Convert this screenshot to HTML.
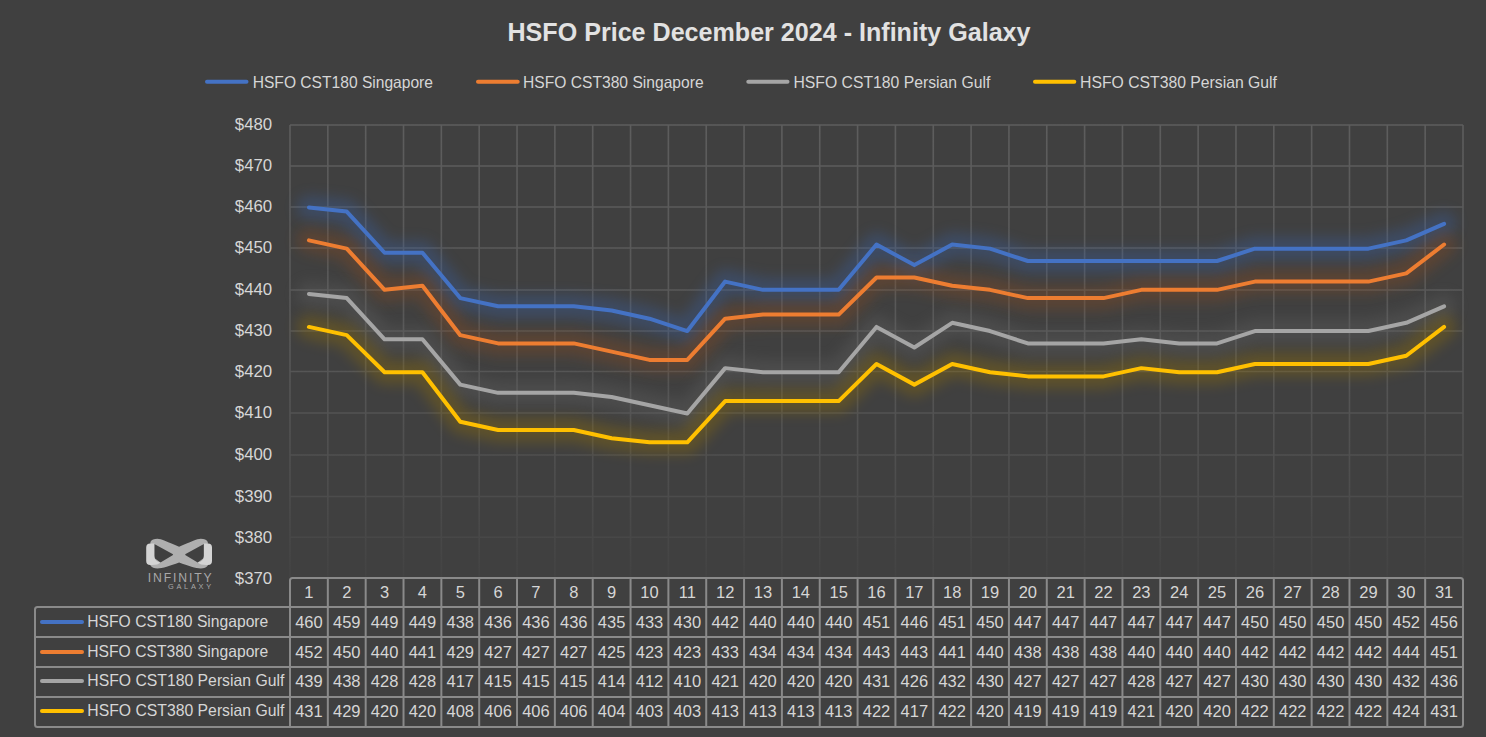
<!DOCTYPE html><html><head><meta charset="utf-8"><style>
html,body{margin:0;padding:0;background:#404040;}
svg{display:block;font-family:"Liberation Sans", sans-serif;}
</style></head><body>
<svg width="1486" height="737" viewBox="0 0 1486 737">
<defs>
<linearGradient id="gg" gradientUnits="userSpaceOnUse" x1="0" y1="125" x2="0" y2="578.3"><stop offset="0" stop-color="#5d5d5d"/><stop offset="0.5" stop-color="#575757"/><stop offset="0.8" stop-color="#4d4d4d"/><stop offset="1" stop-color="#434343"/></linearGradient>
<filter id="glow" x="-10%" y="-30%" width="120%" height="160%"><feGaussianBlur stdDeviation="6.5"/></filter>
</defs>
<rect width="1486" height="737" fill="#404040"/>
<text x="507.5" y="41" font-size="26" font-weight="bold" fill="#e2e2e2" textLength="523" lengthAdjust="spacingAndGlyphs">HSFO Price December 2024 - Infinity Galaxy</text>
<line x1="207" y1="81.8" x2="246.5" y2="81.8" stroke="#4472C4" stroke-width="4" stroke-linecap="round"/>
<text x="252.7" y="87.7" font-size="16.5" fill="#d6d6d6" textLength="180.3" lengthAdjust="spacingAndGlyphs">HSFO CST180 Singapore</text>
<line x1="478" y1="81.8" x2="517.7" y2="81.8" stroke="#ED7D31" stroke-width="4" stroke-linecap="round"/>
<text x="523" y="87.7" font-size="16.5" fill="#d6d6d6" textLength="180.6" lengthAdjust="spacingAndGlyphs">HSFO CST380 Singapore</text>
<line x1="748.3" y1="81.8" x2="787.5" y2="81.8" stroke="#A5A5A5" stroke-width="4" stroke-linecap="round"/>
<text x="793.5" y="87.7" font-size="16.5" fill="#d6d6d6" textLength="196.8" lengthAdjust="spacingAndGlyphs">HSFO CST180 Persian Gulf</text>
<line x1="1035" y1="81.8" x2="1074.3" y2="81.8" stroke="#FFC000" stroke-width="4" stroke-linecap="round"/>
<text x="1080" y="87.7" font-size="16.5" fill="#d6d6d6" textLength="197" lengthAdjust="spacingAndGlyphs">HSFO CST380 Persian Gulf</text>
<g stroke="url(#gg)" stroke-width="1.6"><line x1="290" y1="125.00" x2="1463" y2="125.00"/><line x1="290" y1="166.00" x2="1463" y2="166.00"/><line x1="290" y1="207.00" x2="1463" y2="207.00"/><line x1="290" y1="248.00" x2="1463" y2="248.00"/><line x1="290" y1="290.00" x2="1463" y2="290.00"/><line x1="290" y1="331.00" x2="1463" y2="331.00"/><line x1="290" y1="371.50" x2="1463" y2="371.50"/><line x1="290" y1="413.00" x2="1463" y2="413.00"/><line x1="290" y1="455.00" x2="1463" y2="455.00"/><line x1="290" y1="496.50" x2="1463" y2="496.50"/><line x1="290" y1="537.30" x2="1463" y2="537.30"/><line x1="290" y1="578.30" x2="1463" y2="578.30"/><line x1="290.00" y1="125" x2="290.00" y2="578.3"/><line x1="327.84" y1="125" x2="327.84" y2="578.3"/><line x1="365.68" y1="125" x2="365.68" y2="578.3"/><line x1="403.52" y1="125" x2="403.52" y2="578.3"/><line x1="441.35" y1="125" x2="441.35" y2="578.3"/><line x1="479.19" y1="125" x2="479.19" y2="578.3"/><line x1="517.03" y1="125" x2="517.03" y2="578.3"/><line x1="554.87" y1="125" x2="554.87" y2="578.3"/><line x1="592.71" y1="125" x2="592.71" y2="578.3"/><line x1="630.55" y1="125" x2="630.55" y2="578.3"/><line x1="668.39" y1="125" x2="668.39" y2="578.3"/><line x1="706.23" y1="125" x2="706.23" y2="578.3"/><line x1="744.06" y1="125" x2="744.06" y2="578.3"/><line x1="781.90" y1="125" x2="781.90" y2="578.3"/><line x1="819.74" y1="125" x2="819.74" y2="578.3"/><line x1="857.58" y1="125" x2="857.58" y2="578.3"/><line x1="895.42" y1="125" x2="895.42" y2="578.3"/><line x1="933.26" y1="125" x2="933.26" y2="578.3"/><line x1="971.10" y1="125" x2="971.10" y2="578.3"/><line x1="1008.94" y1="125" x2="1008.94" y2="578.3"/><line x1="1046.77" y1="125" x2="1046.77" y2="578.3"/><line x1="1084.61" y1="125" x2="1084.61" y2="578.3"/><line x1="1122.45" y1="125" x2="1122.45" y2="578.3"/><line x1="1160.29" y1="125" x2="1160.29" y2="578.3"/><line x1="1198.13" y1="125" x2="1198.13" y2="578.3"/><line x1="1235.97" y1="125" x2="1235.97" y2="578.3"/><line x1="1273.81" y1="125" x2="1273.81" y2="578.3"/><line x1="1311.65" y1="125" x2="1311.65" y2="578.3"/><line x1="1349.48" y1="125" x2="1349.48" y2="578.3"/><line x1="1387.32" y1="125" x2="1387.32" y2="578.3"/><line x1="1425.16" y1="125" x2="1425.16" y2="578.3"/><line x1="1463.00" y1="125" x2="1463.00" y2="578.3"/></g>
<text x="234.8" y="130.40" font-size="16.5" fill="#d6d6d6" textLength="37.4" lengthAdjust="spacingAndGlyphs">$480</text>
<text x="234.8" y="171.40" font-size="16.5" fill="#d6d6d6" textLength="37.4" lengthAdjust="spacingAndGlyphs">$470</text>
<text x="234.8" y="212.40" font-size="16.5" fill="#d6d6d6" textLength="37.4" lengthAdjust="spacingAndGlyphs">$460</text>
<text x="234.8" y="253.40" font-size="16.5" fill="#d6d6d6" textLength="37.4" lengthAdjust="spacingAndGlyphs">$450</text>
<text x="234.8" y="295.40" font-size="16.5" fill="#d6d6d6" textLength="37.4" lengthAdjust="spacingAndGlyphs">$440</text>
<text x="234.8" y="336.40" font-size="16.5" fill="#d6d6d6" textLength="37.4" lengthAdjust="spacingAndGlyphs">$430</text>
<text x="234.8" y="376.90" font-size="16.5" fill="#d6d6d6" textLength="37.4" lengthAdjust="spacingAndGlyphs">$420</text>
<text x="234.8" y="418.40" font-size="16.5" fill="#d6d6d6" textLength="37.4" lengthAdjust="spacingAndGlyphs">$410</text>
<text x="234.8" y="460.40" font-size="16.5" fill="#d6d6d6" textLength="37.4" lengthAdjust="spacingAndGlyphs">$400</text>
<text x="234.8" y="501.90" font-size="16.5" fill="#d6d6d6" textLength="37.4" lengthAdjust="spacingAndGlyphs">$390</text>
<text x="234.8" y="542.70" font-size="16.5" fill="#d6d6d6" textLength="37.4" lengthAdjust="spacingAndGlyphs">$380</text>
<text x="234.8" y="583.70" font-size="16.5" fill="#d6d6d6" textLength="37.4" lengthAdjust="spacingAndGlyphs">$370</text>
<polyline points="308.92,207.42 346.76,211.54 384.60,252.75 422.44,252.75 460.27,298.08 498.11,306.32 535.95,306.32 573.79,306.32 611.63,310.44 649.47,318.68 687.31,331.05 725.15,281.59 762.98,289.84 800.82,289.84 838.66,289.84 876.50,244.51 914.34,265.11 952.18,244.51 990.02,248.63 1027.85,260.99 1065.69,260.99 1103.53,260.99 1141.37,260.99 1179.21,260.99 1217.05,260.99 1254.89,248.63 1292.73,248.63 1330.56,248.63 1368.40,248.63 1406.24,240.39 1444.08,223.90" fill="none" stroke="#3960a6" stroke-width="24" stroke-linejoin="round" stroke-linecap="round" opacity="0.34" filter="url(#glow)"/>
<polyline points="308.92,240.39 346.76,248.63 384.60,289.84 422.44,285.72 460.27,335.17 498.11,343.41 535.95,343.41 573.79,343.41 611.63,351.65 649.47,359.89 687.31,359.89 725.15,318.68 762.98,314.56 800.82,314.56 838.66,314.56 876.50,277.47 914.34,277.47 952.18,285.72 990.02,289.84 1027.85,298.08 1065.69,298.08 1103.53,298.08 1141.37,289.84 1179.21,289.84 1217.05,289.84 1254.89,281.59 1292.73,281.59 1330.56,281.59 1368.40,281.59 1406.24,273.35 1444.08,244.51" fill="none" stroke="#8e4b1d" stroke-width="24" stroke-linejoin="round" stroke-linecap="round" opacity="0.34" filter="url(#glow)"/>
<polyline points="308.92,293.96 346.76,298.08 384.60,339.29 422.44,339.29 460.27,384.62 498.11,392.86 535.95,392.86 573.79,392.86 611.63,396.98 649.47,405.22 687.31,413.46 725.15,368.13 762.98,372.25 800.82,372.25 838.66,372.25 876.50,326.92 914.34,347.53 952.18,322.80 990.02,331.05 1027.85,343.41 1065.69,343.41 1103.53,343.41 1141.37,339.29 1179.21,343.41 1217.05,343.41 1254.89,331.05 1292.73,331.05 1330.56,331.05 1368.40,331.05 1406.24,322.80 1444.08,306.32" fill="none" stroke="#636363" stroke-width="24" stroke-linejoin="round" stroke-linecap="round" opacity="0.34" filter="url(#glow)"/>
<polyline points="308.92,326.92 346.76,335.17 384.60,372.25 422.44,372.25 460.27,421.71 498.11,429.95 535.95,429.95 573.79,429.95 611.63,438.19 649.47,442.31 687.31,442.31 725.15,401.10 762.98,401.10 800.82,401.10 838.66,401.10 876.50,364.01 914.34,384.62 952.18,364.01 990.02,372.25 1027.85,376.38 1065.69,376.38 1103.53,376.38 1141.37,368.13 1179.21,372.25 1217.05,372.25 1254.89,364.01 1292.73,364.01 1330.56,364.01 1368.40,364.01 1406.24,355.77 1444.08,326.92" fill="none" stroke="#997300" stroke-width="24" stroke-linejoin="round" stroke-linecap="round" opacity="0.34" filter="url(#glow)"/>
<polyline points="308.92,207.42 346.76,211.54 384.60,252.75 422.44,252.75 460.27,298.08 498.11,306.32 535.95,306.32 573.79,306.32 611.63,310.44 649.47,318.68 687.31,331.05 725.15,281.59 762.98,289.84 800.82,289.84 838.66,289.84 876.50,244.51 914.34,265.11 952.18,244.51 990.02,248.63 1027.85,260.99 1065.69,260.99 1103.53,260.99 1141.37,260.99 1179.21,260.99 1217.05,260.99 1254.89,248.63 1292.73,248.63 1330.56,248.63 1368.40,248.63 1406.24,240.39 1444.08,223.90" fill="none" stroke="#4472C4" stroke-width="4" stroke-linejoin="round" stroke-linecap="round"/>
<polyline points="308.92,240.39 346.76,248.63 384.60,289.84 422.44,285.72 460.27,335.17 498.11,343.41 535.95,343.41 573.79,343.41 611.63,351.65 649.47,359.89 687.31,359.89 725.15,318.68 762.98,314.56 800.82,314.56 838.66,314.56 876.50,277.47 914.34,277.47 952.18,285.72 990.02,289.84 1027.85,298.08 1065.69,298.08 1103.53,298.08 1141.37,289.84 1179.21,289.84 1217.05,289.84 1254.89,281.59 1292.73,281.59 1330.56,281.59 1368.40,281.59 1406.24,273.35 1444.08,244.51" fill="none" stroke="#ED7D31" stroke-width="4" stroke-linejoin="round" stroke-linecap="round"/>
<polyline points="308.92,293.96 346.76,298.08 384.60,339.29 422.44,339.29 460.27,384.62 498.11,392.86 535.95,392.86 573.79,392.86 611.63,396.98 649.47,405.22 687.31,413.46 725.15,368.13 762.98,372.25 800.82,372.25 838.66,372.25 876.50,326.92 914.34,347.53 952.18,322.80 990.02,331.05 1027.85,343.41 1065.69,343.41 1103.53,343.41 1141.37,339.29 1179.21,343.41 1217.05,343.41 1254.89,331.05 1292.73,331.05 1330.56,331.05 1368.40,331.05 1406.24,322.80 1444.08,306.32" fill="none" stroke="#A5A5A5" stroke-width="4" stroke-linejoin="round" stroke-linecap="round"/>
<polyline points="308.92,326.92 346.76,335.17 384.60,372.25 422.44,372.25 460.27,421.71 498.11,429.95 535.95,429.95 573.79,429.95 611.63,438.19 649.47,442.31 687.31,442.31 725.15,401.10 762.98,401.10 800.82,401.10 838.66,401.10 876.50,364.01 914.34,384.62 952.18,364.01 990.02,372.25 1027.85,376.38 1065.69,376.38 1103.53,376.38 1141.37,368.13 1179.21,372.25 1217.05,372.25 1254.89,364.01 1292.73,364.01 1330.56,364.01 1368.40,364.01 1406.24,355.77 1444.08,326.92" fill="none" stroke="#FFC000" stroke-width="4" stroke-linejoin="round" stroke-linecap="round"/>
<g stroke="#8a8a8a" stroke-width="2" stroke-linecap="butt"><path fill="none" d="M292.5,578 L1460.5,578 Q1463,578 1463,580.5 L1463,724.5 Q1463,727 1460.5,727 L37.5,727 Q35,727 35,724.5 L35,609.5 Q35,607 37.5,607 L290,607 L290,580.5 Q290,578 292.5,578 Z"/><line x1="35" y1="637" x2="1463" y2="637"/><line x1="35" y1="667" x2="1463" y2="667"/><line x1="35" y1="697" x2="1463" y2="697"/><line x1="290" y1="607" x2="1463" y2="607"/><line x1="290" y1="607" x2="290" y2="727"/><line x1="327.84" y1="578" x2="327.84" y2="727"/><line x1="365.68" y1="578" x2="365.68" y2="727"/><line x1="403.52" y1="578" x2="403.52" y2="727"/><line x1="441.35" y1="578" x2="441.35" y2="727"/><line x1="479.19" y1="578" x2="479.19" y2="727"/><line x1="517.03" y1="578" x2="517.03" y2="727"/><line x1="554.87" y1="578" x2="554.87" y2="727"/><line x1="592.71" y1="578" x2="592.71" y2="727"/><line x1="630.55" y1="578" x2="630.55" y2="727"/><line x1="668.39" y1="578" x2="668.39" y2="727"/><line x1="706.23" y1="578" x2="706.23" y2="727"/><line x1="744.06" y1="578" x2="744.06" y2="727"/><line x1="781.90" y1="578" x2="781.90" y2="727"/><line x1="819.74" y1="578" x2="819.74" y2="727"/><line x1="857.58" y1="578" x2="857.58" y2="727"/><line x1="895.42" y1="578" x2="895.42" y2="727"/><line x1="933.26" y1="578" x2="933.26" y2="727"/><line x1="971.10" y1="578" x2="971.10" y2="727"/><line x1="1008.94" y1="578" x2="1008.94" y2="727"/><line x1="1046.77" y1="578" x2="1046.77" y2="727"/><line x1="1084.61" y1="578" x2="1084.61" y2="727"/><line x1="1122.45" y1="578" x2="1122.45" y2="727"/><line x1="1160.29" y1="578" x2="1160.29" y2="727"/><line x1="1198.13" y1="578" x2="1198.13" y2="727"/><line x1="1235.97" y1="578" x2="1235.97" y2="727"/><line x1="1273.81" y1="578" x2="1273.81" y2="727"/><line x1="1311.65" y1="578" x2="1311.65" y2="727"/><line x1="1349.48" y1="578" x2="1349.48" y2="727"/><line x1="1387.32" y1="578" x2="1387.32" y2="727"/><line x1="1425.16" y1="578" x2="1425.16" y2="727"/></g>
<g font-size="16.5" fill="#d6d6d6" text-anchor="middle"><text x="308.92" y="598">1</text><text x="346.76" y="598">2</text><text x="384.60" y="598">3</text><text x="422.44" y="598">4</text><text x="460.27" y="598">5</text><text x="498.11" y="598">6</text><text x="535.95" y="598">7</text><text x="573.79" y="598">8</text><text x="611.63" y="598">9</text><text x="649.47" y="598">10</text><text x="687.31" y="598">11</text><text x="725.15" y="598">12</text><text x="762.98" y="598">13</text><text x="800.82" y="598">14</text><text x="838.66" y="598">15</text><text x="876.50" y="598">16</text><text x="914.34" y="598">17</text><text x="952.18" y="598">18</text><text x="990.02" y="598">19</text><text x="1027.85" y="598">20</text><text x="1065.69" y="598">21</text><text x="1103.53" y="598">22</text><text x="1141.37" y="598">23</text><text x="1179.21" y="598">24</text><text x="1217.05" y="598">25</text><text x="1254.89" y="598">26</text><text x="1292.73" y="598">27</text><text x="1330.56" y="598">28</text><text x="1368.40" y="598">29</text><text x="1406.24" y="598">30</text><text x="1444.08" y="598">31</text><text x="308.92" y="628">460</text><text x="346.76" y="628">459</text><text x="384.60" y="628">449</text><text x="422.44" y="628">449</text><text x="460.27" y="628">438</text><text x="498.11" y="628">436</text><text x="535.95" y="628">436</text><text x="573.79" y="628">436</text><text x="611.63" y="628">435</text><text x="649.47" y="628">433</text><text x="687.31" y="628">430</text><text x="725.15" y="628">442</text><text x="762.98" y="628">440</text><text x="800.82" y="628">440</text><text x="838.66" y="628">440</text><text x="876.50" y="628">451</text><text x="914.34" y="628">446</text><text x="952.18" y="628">451</text><text x="990.02" y="628">450</text><text x="1027.85" y="628">447</text><text x="1065.69" y="628">447</text><text x="1103.53" y="628">447</text><text x="1141.37" y="628">447</text><text x="1179.21" y="628">447</text><text x="1217.05" y="628">447</text><text x="1254.89" y="628">450</text><text x="1292.73" y="628">450</text><text x="1330.56" y="628">450</text><text x="1368.40" y="628">450</text><text x="1406.24" y="628">452</text><text x="1444.08" y="628">456</text><text x="308.92" y="658">452</text><text x="346.76" y="658">450</text><text x="384.60" y="658">440</text><text x="422.44" y="658">441</text><text x="460.27" y="658">429</text><text x="498.11" y="658">427</text><text x="535.95" y="658">427</text><text x="573.79" y="658">427</text><text x="611.63" y="658">425</text><text x="649.47" y="658">423</text><text x="687.31" y="658">423</text><text x="725.15" y="658">433</text><text x="762.98" y="658">434</text><text x="800.82" y="658">434</text><text x="838.66" y="658">434</text><text x="876.50" y="658">443</text><text x="914.34" y="658">443</text><text x="952.18" y="658">441</text><text x="990.02" y="658">440</text><text x="1027.85" y="658">438</text><text x="1065.69" y="658">438</text><text x="1103.53" y="658">438</text><text x="1141.37" y="658">440</text><text x="1179.21" y="658">440</text><text x="1217.05" y="658">440</text><text x="1254.89" y="658">442</text><text x="1292.73" y="658">442</text><text x="1330.56" y="658">442</text><text x="1368.40" y="658">442</text><text x="1406.24" y="658">444</text><text x="1444.08" y="658">451</text><text x="308.92" y="686.8">439</text><text x="346.76" y="686.8">438</text><text x="384.60" y="686.8">428</text><text x="422.44" y="686.8">428</text><text x="460.27" y="686.8">417</text><text x="498.11" y="686.8">415</text><text x="535.95" y="686.8">415</text><text x="573.79" y="686.8">415</text><text x="611.63" y="686.8">414</text><text x="649.47" y="686.8">412</text><text x="687.31" y="686.8">410</text><text x="725.15" y="686.8">421</text><text x="762.98" y="686.8">420</text><text x="800.82" y="686.8">420</text><text x="838.66" y="686.8">420</text><text x="876.50" y="686.8">431</text><text x="914.34" y="686.8">426</text><text x="952.18" y="686.8">432</text><text x="990.02" y="686.8">430</text><text x="1027.85" y="686.8">427</text><text x="1065.69" y="686.8">427</text><text x="1103.53" y="686.8">427</text><text x="1141.37" y="686.8">428</text><text x="1179.21" y="686.8">427</text><text x="1217.05" y="686.8">427</text><text x="1254.89" y="686.8">430</text><text x="1292.73" y="686.8">430</text><text x="1330.56" y="686.8">430</text><text x="1368.40" y="686.8">430</text><text x="1406.24" y="686.8">432</text><text x="1444.08" y="686.8">436</text><text x="308.92" y="716.8">431</text><text x="346.76" y="716.8">429</text><text x="384.60" y="716.8">420</text><text x="422.44" y="716.8">420</text><text x="460.27" y="716.8">408</text><text x="498.11" y="716.8">406</text><text x="535.95" y="716.8">406</text><text x="573.79" y="716.8">406</text><text x="611.63" y="716.8">404</text><text x="649.47" y="716.8">403</text><text x="687.31" y="716.8">403</text><text x="725.15" y="716.8">413</text><text x="762.98" y="716.8">413</text><text x="800.82" y="716.8">413</text><text x="838.66" y="716.8">413</text><text x="876.50" y="716.8">422</text><text x="914.34" y="716.8">417</text><text x="952.18" y="716.8">422</text><text x="990.02" y="716.8">420</text><text x="1027.85" y="716.8">419</text><text x="1065.69" y="716.8">419</text><text x="1103.53" y="716.8">419</text><text x="1141.37" y="716.8">421</text><text x="1179.21" y="716.8">420</text><text x="1217.05" y="716.8">420</text><text x="1254.89" y="716.8">422</text><text x="1292.73" y="716.8">422</text><text x="1330.56" y="716.8">422</text><text x="1368.40" y="716.8">422</text><text x="1406.24" y="716.8">424</text><text x="1444.08" y="716.8">431</text></g>
<line x1="42" y1="622" x2="82" y2="622" stroke="#4472C4" stroke-width="4" stroke-linecap="round"/>
<text x="87.3" y="627" font-size="16.5" fill="#d6d6d6" textLength="181" lengthAdjust="spacingAndGlyphs">HSFO CST180 Singapore</text>
<line x1="42" y1="652" x2="82" y2="652" stroke="#ED7D31" stroke-width="4" stroke-linecap="round"/>
<text x="87.3" y="657" font-size="16.5" fill="#d6d6d6" textLength="181" lengthAdjust="spacingAndGlyphs">HSFO CST380 Singapore</text>
<line x1="42" y1="681" x2="82" y2="681" stroke="#A5A5A5" stroke-width="4" stroke-linecap="round"/>
<text x="87.3" y="686" font-size="16.5" fill="#d6d6d6" textLength="197" lengthAdjust="spacingAndGlyphs">HSFO CST180 Persian Gulf</text>
<line x1="42" y1="711" x2="82" y2="711" stroke="#FFC000" stroke-width="4" stroke-linecap="round"/>
<text x="87.3" y="716" font-size="16.5" fill="#d6d6d6" textLength="197" lengthAdjust="spacingAndGlyphs">HSFO CST380 Persian Gulf</text>
<g id="logo">
<path d="M150.4,542 C151.5,539.8 154,538.7 157.5,538.7 C161,538.7 168,542 179.1,546.8 C190.2,542 197.2,538.7 200.7,538.7 C204.2,538.7 206.7,539.8 207.8,542 L207.8,565.5 C206.5,567.5 204,568.4 200.7,568.4 C196,568.4 188,565.5 179.1,562.4 C170.2,565.5 162.2,568.4 157.5,568.4 C154.2,568.4 151.7,567.5 150.4,565.5 Z" fill="#afafaf"/>
<path d="M154.3,544 L172.6,554 Q173.6,554.6 172.6,555.2 L160.5,562.5 L154.3,558 Z" fill="#404040"/>
<path d="M203.9,544 L185.6,554 Q184.6,554.6 185.6,555.2 L197.7,562.5 L203.9,558 Z" fill="#404040"/>
<path id="lcap" d="M150.2,543.4 L154.3,543.4 L154.3,556 Q154.8,561.8 160.5,562.5 Q158,565 152,565 L150.2,565 Q146.2,565 146.2,561 L146.2,547.4 Q146.2,543.4 150.2,543.4 Z" fill="#d4d4d4"/>
<path d="M150.2,543.4 L154.3,543.4 L154.3,556 Q154.8,561.8 160.5,562.5 Q158,565 152,565 L150.2,565 Q146.2,565 146.2,561 L146.2,547.4 Q146.2,543.4 150.2,543.4 Z" fill="#d4d4d4" transform="translate(358.2,0) scale(-1,1)"/>
<text x="147.7" y="581.8" font-size="12.2" fill="#a8a8a8" textLength="63.9" lengthAdjust="spacing">INFINITY</text>
<text x="168" y="588.9" font-size="7.4" fill="#a8a8a8" textLength="43.2" lengthAdjust="spacing">GALAXY</text>
</g>
</svg></body></html>
